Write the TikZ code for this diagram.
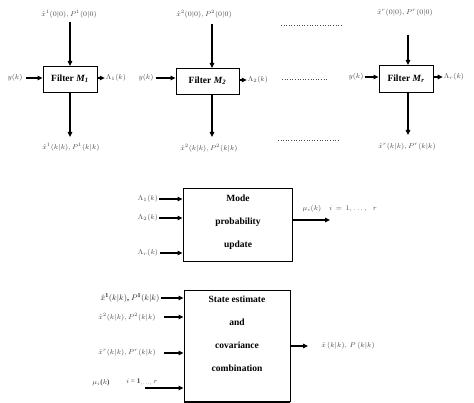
\documentclass[tikz,border=0pt]{standalone}
\usepackage{fontspec}
\setmainfont{Liberation Serif}
\usetikzlibrary{arrows.meta}
\newcommand{\fM}[1]{\textbf{\textit{M}}\textsubscript{\textbf{\textit{#1}}}}
\begin{document}
\begin{tikzpicture}[x=1pt,y=-1pt,
  lbl/.style={font=\fontsize{7.2}{8}\selectfont, text=black!72, inner sep=0pt},
  blk/.style={draw, line width=0.9pt, inner sep=0pt},
  arr/.style={line width=1.1pt, -{Triangle[length=5pt,width=4.5pt]}},
  btxt/.style={font=\fontsize{9.5}{11}\selectfont\bfseries, inner sep=0pt},
  dots/.style={dotted, line width=0.6pt, black!70}]
\useasboundingbox (0,0) rectangle (474,403);

% ---------- filter boxes ----------
\node[blk, minimum width=54pt, minimum height=26pt] (f1) at (70,79) {};
\node[btxt] (f1t) at (70,79) {Filter \fM{1}};
\node[blk, minimum width=63pt, minimum height=26pt] (f2) at (207.5,81) {};
\node[btxt] (f2t) at (207.5,81) {Filter \fM{2}};
\node[blk, minimum width=54pt, minimum height=27pt] (fr) at (406,78.5) {};
\node[btxt] (frt) at (406,78.5) {Filter \fM{r}};

% top labels
\node[lbl] (t1) at (69,14) {$\hat{x}^1(0|0), P^1(0|0)$};
\node[lbl] (t2) at (204,14) {$\hat{x}^2(0|0), P^2(0|0)$};
\node[lbl] (tr) at (405,13) {$\hat{x}^r(0|0), P^r(0|0)$};
% bottom labels
\node[lbl] (b1) at (71,147) {$\hat{x}^1(k|k), P^1(k|k)$};
\node[lbl] (b2) at (209,148) {$\hat{x}^2(k|k), P^2(k|k)$};
\node[lbl] (br) at (407,147) {$\hat{x}^r(k|k), P^r(k|k)$};
% y(k)
\node[lbl] (y1) at (15,78) {$y(k)$};
\node[lbl] (y2) at (146,78) {$y(k)$};
\node[lbl] (yr) at (356,77) {$y(k)$};
% Lambda
\node[lbl] (L1) at (116,78) {$\Lambda_1(k)$};
\node[lbl] (L2) at (258,80) {$\Lambda_2(k)$};
\node[lbl] (Lr) at (454,77) {$\Lambda_r(k)$};

\coordinate (t1s) at (70,22);   \coordinate (t1e) at (70,66);
\coordinate (t2s) at (212,24);  \coordinate (t2e) at (212,68);
\coordinate (trs) at (408,35);  \coordinate (tre) at (408,65);
\draw[arr] (t1s) -- (t1e);
\draw[arr] (t2s) -- (t2e);
\draw[arr] (trs) -- (tre);
\coordinate (b1s) at (70,92);   \coordinate (b1e) at (70,137);
\coordinate (b2s) at (212,94);  \coordinate (b2e) at (212,137);
\coordinate (brs) at (408,92);  \coordinate (bre) at (408,135);
\draw[arr] (b1s) -- (b1e);
\draw[arr] (b2s) -- (b2e);
\draw[arr] (brs) -- (bre);

\draw[arr] ([xshift=3pt]y1.east) -- (f1.west |- y1);
\draw[arr] ([xshift=2pt]y2.east) -- (f2.west |- y2);
\draw[arr] ([xshift=1pt]yr.east) -- (fr.west |- yr);
\draw[arr] (f1.east |- L1) -- ([xshift=-1pt]L1.west);
\draw[arr] (f2.east |- L2) -- ([xshift=-1pt]L2.west);
\draw[arr] (fr.east |- Lr) -- ([xshift=-1pt]Lr.west);

% dotted separators
\coordinate (d1a) at (281,25);  \coordinate (d1b) at (342,25);
\coordinate (d2a) at (282,79);  \coordinate (d2b) at (328,79);
\coordinate (d3a) at (278,140); \coordinate (d3b) at (340,140);
\draw[dots] (d1a) -- (d1b);
\draw[dots] (d2a) -- (d2b);
\draw[dots] (d3a) -- (d3b);

% ---------- mode probability update ----------
\node[blk, minimum width=109pt, minimum height=73pt] (mp) at (237.5,224.5) {};
\node[btxt] (mp1) at (238,198) {Mode};
\node[btxt] (mp2) at (238,222) {probability};
\node[btxt] (mp3) at (238,245) {update};
\node[lbl] (m1) at (148,199) {$\Lambda_1(k)$};
\node[lbl] (m2) at (148,218) {$\Lambda_2(k)$};
\node[lbl] (mr) at (148,253) {$\Lambda_r(k)$};
\draw[arr] ([xshift=1pt]m1.east) -- (mp.west |- m1);
\draw[arr] ([xshift=1pt]m2.east) -- (mp.west |- m2);
\draw[arr] ([xshift=2pt]mr.east) -- (mp.west |- mr);
\coordinate (mo) at (330,220);
\draw[arr] (mp.east |- mo) -- (mo);
\node[lbl] (mu) at (312,209) {$\mu_i(k)$};
\node[lbl] (ir) at (353,209) {$i\,=\,1,\ldots,\;\;r$};

% ---------- state estimate and covariance combination ----------
\node[blk, minimum width=106pt, minimum height=111pt] (se) at (237,345.5) {};
\draw[line width=1.6pt] ([yshift=-0.4pt]se.south west) -- ([yshift=-0.4pt]se.south east);
\node[btxt] (se1) at (237,299) {State estimate};
\node[btxt] (se2) at (237,322) {and};
\node[btxt] (se3) at (237,345) {covariance};
\node[btxt] (se4) at (237,368) {combination};

\node[lbl, font=\fontsize{8}{9}\selectfont, text=black!85] (s1) at (130,298) {$\hat{x}^{\mathbf{1}}(k|k)$\textbf{,} $P^{\mathbf{1}}(k|k)$};
\node[lbl] (s2) at (127,317) {$\hat{x}^2(k|k), P^2(k|k)$};
\node[lbl] (s3) at (127,353) {$\hat{x}^r(k|k), P^r(k|k)$};
\node[lbl] (s4a) at (101,383) {$\mu_i$\textbf{(}$k$\textbf{)}};
\node[lbl] (s4b) at (142,382) {$i$ = \textbf{1}$_{,\ldots,}\,r$};
\coordinate (s4s) at (145,388);
\draw[arr] ([xshift=1pt]s1.east) -- (se.west |- s1);
\draw[arr] ([xshift=8pt]s2.east) -- (se.west |- s2);
\draw[arr] ([xshift=8pt]s3.east) -- (se.west |- s3);
\draw[arr] (s4s) -- (se.west |- s4s);
\coordinate (so) at (308,346);
\draw[arr] (se.east |- so) -- (so);
\node[lbl] (sout) at (348,346) {$\hat{x}\,(k|k),\, P\,(k|k)$};
\end{tikzpicture}
\end{document}
